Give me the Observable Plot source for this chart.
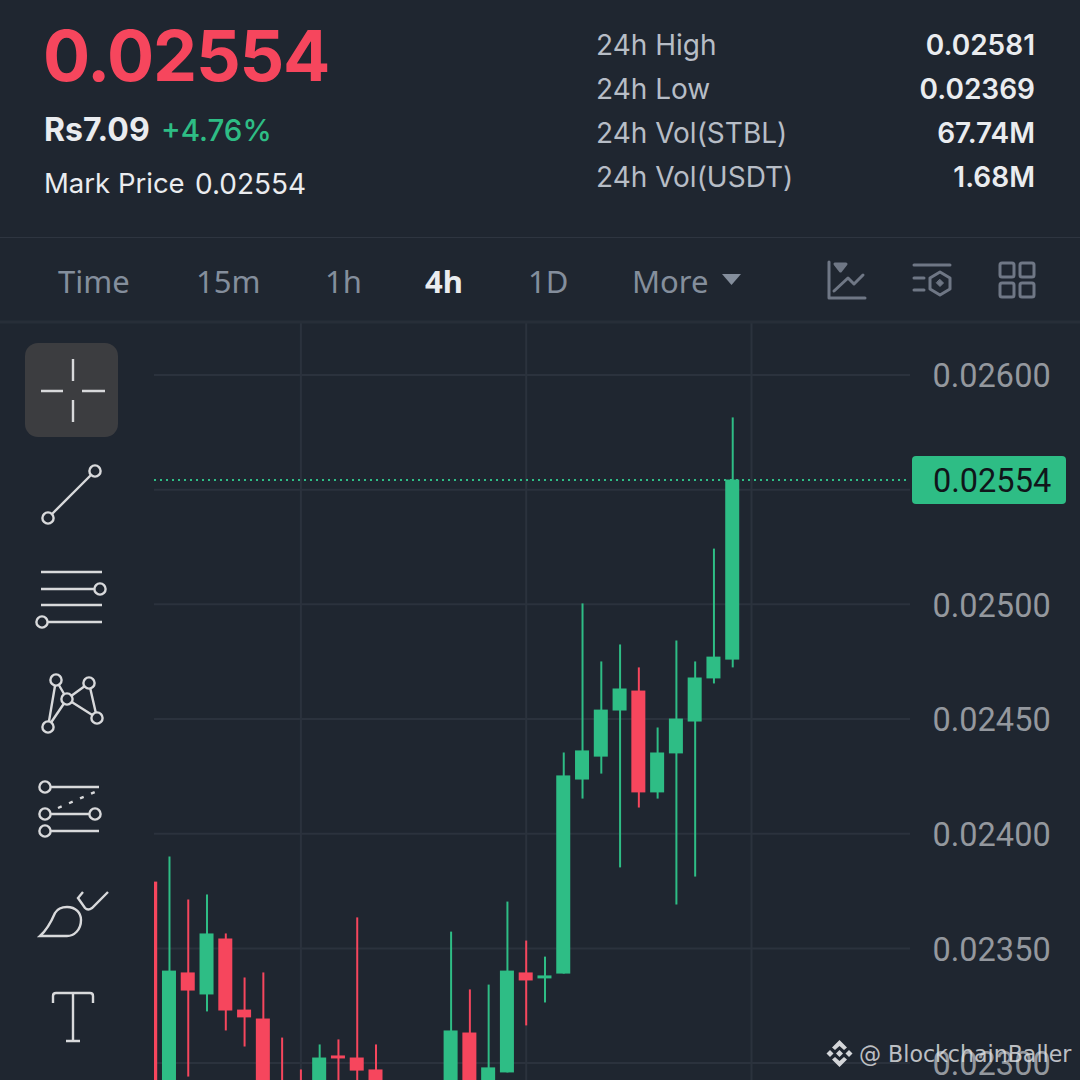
<!DOCTYPE html>
<html><head><meta charset="utf-8">
<script src="https://cdn.jsdelivr.net/npm/d3@7"></script>
<script src="https://cdn.jsdelivr.net/npm/@observablehq/plot@0.6"></script>
<style>
html,body{margin:0;padding:0;background:#1f2630;overflow:hidden;width:1080px;height:1080px}
#page{position:relative;width:1080px;height:1080px;font-family:Inter,sans-serif;overflow:hidden}
.t{position:absolute;white-space:nowrap;line-height:1;transform:translateY(-50%)}
#chart{position:absolute;left:0;top:322px}
#icons{position:absolute;left:0;top:0;pointer-events:none}
</style></head><body>
<div id="page"><div id="chart"></div><div id="hdr"></div>
<svg id="icons" width="1080" height="1080" fill="none">
 <line x1="0" x2="1080" y1="237.5" y2="237.5" stroke="#2e3540" stroke-width="1"/>
 <line x1="0" x2="1080" y1="322" y2="322" stroke="#272e38" stroke-width="3"/>
 <g stroke="#6f7785" stroke-width="3" stroke-linecap="round" stroke-linejoin="round">
  <path d="M829 262V298H865"/><path d="M835 264H846L840.5 271Z" fill="#6f7785"/><path d="M834 291L848 278L854 284L863 275"/>
  <path d="M914 265H950M914 278H924M914 290H924"/><path d="M940 272L950 278V289L940 295L930 289V278Z"/><path d="M940 279.5L943.5 283L940 286.5L936.5 283Z" fill="#6f7785" stroke-width="1"/>
  <rect x="1000" y="263" width="14" height="14" rx="2"/><rect x="1020" y="263" width="14" height="14" rx="2"/><rect x="1000" y="283" width="14" height="14" rx="2"/><rect x="1020" y="283" width="14" height="14" rx="2"/>
 </g>
 <path d="M722 274H741L731.5 285Z" fill="#848e9c"/>
 <rect x="25" y="343" width="93" height="94" rx="13" fill="#3c3d40"/>
 <g stroke="#d8d9db" stroke-width="2.4" stroke-linecap="butt">
  <path d="M73 359V381M73 400V422M41 391H63M82 391H105"/>
  <path d="M91 475L52 514"/><circle cx="95" cy="471" r="5.6"/><circle cx="48" cy="518" r="5.6"/>
  <path d="M41 572H102M41 589H95M41 605H102M48 622H102"/><circle cx="100" cy="589" r="5.6"/><circle cx="42" cy="622" r="5.6"/>
  <path d="M56 680L48 727M56 680L67 699M67 699L89 683M89 683L97 718M48 727L67 699M67 699L97 718"/>
  <g fill="#1f2630"><circle cx="56" cy="680" r="5.6"/><circle cx="89" cy="683" r="5.6"/><circle cx="67" cy="699" r="5.6"/><circle cx="48" cy="727" r="5.6"/><circle cx="97" cy="718" r="5.6"/></g>
  <path d="M51 787H99M51 814H89M51 831H99"/><path d="M58 808L95 792" stroke-dasharray="4 8"/><circle cx="45" cy="787" r="5.6"/><circle cx="45" cy="814" r="5.6"/><circle cx="95" cy="814" r="5.6"/><circle cx="45" cy="831" r="5.6"/>
  <path d="M40 936C48 929 52 920 55 913C58 908 62 907 67 907C76 907 81 913 81 920C81 930 74 936 67 936Z"/>
  <path d="M83 892L78 898L85 908Q88 911 92 908L108 892"/>
  <path d="M53 1003V996Q53 993 56 993H90Q93 993 93 996V1003M73 993V1041M66 1041H80"/>
 </g>
 <g fill="#d4d6d9" transform="translate(839.5,1053.5)">
  <path d="M0 -13.5L7.5 -6L4.5 -3.5L0 -7.5L-4.5 -3.5L-7.5 -6Z"/><path d="M0 13.5L7.5 6L4.5 3.5L0 7.5L-4.5 3.5L-7.5 6Z"/>
  <path d="M-13 0L-9.5 -3.5L-6 0L-9.5 3.5Z"/><path d="M13 0L9.5 -3.5L6 0L9.5 3.5Z"/><path d="M0 -3.5L3.5 0L0 3.5L-3.5 0Z"/>
 </g>
</svg></div>
<script>
// --- values ---
const lastPrice = 0.02554;
const priceTicks = [0.026, 0.0255, 0.025, 0.0245, 0.024, 0.0235, 0.023];
const timeGrid = [8, 20, 32];
const candleIndex = [0,1,2,3,4,5,6,7,8,9,10,11,12,16,17,18,19,20,21,22,23,24,25,26,27,28,29,30,31];
const open  = [0.023789,0.022600,0.023393,0.023297,0.023541,0.023231,0.023192,0.022850,0.022850,0.022800,0.023031,0.023022,0.022970,0.022800,0.023131,0.022800,0.022957,0.023393,0.023367,0.023388,0.024234,0.024334,0.024535,0.024622,0.024178,0.024348,0.024487,0.024675,0.024757];
const close = [0.022400,0.023401,0.023314,0.023563,0.023227,0.023197,0.022800,0.022800,0.022800,0.023022,0.023018,0.022965,0.022800,0.023140,0.022800,0.022979,0.023401,0.023358,0.023380,0.024252,0.024361,0.024539,0.024631,0.024178,0.024352,0.024500,0.024679,0.024770,0.025542];
const high  = [0.023789,0.023898,0.023711,0.023733,0.023563,0.023371,0.023393,0.023109,0.022970,0.023079,0.023101,0.023633,0.023079,0.023571,0.023319,0.023340,0.023702,0.023532,0.023462,0.024352,0.025002,0.024749,0.024823,0.024723,0.024461,0.024840,0.024749,0.025241,0.025813];
const low   = [0.022400,0.022600,0.022939,0.023223,0.023140,0.023070,0.022800,0.022800,0.022800,0.022800,0.022800,0.022800,0.022800,0.022800,0.022800,0.022800,0.022957,0.023162,0.023262,0.023388,0.024151,0.024260,0.023851,0.024112,0.024151,0.023689,0.023811,0.024653,0.024723];
const headerStats = [["24h High","0.02581",45],["24h Low","0.02369",89],["24h Vol(STBL)","67.74M",133],["24h Vol(USDT)","1.68M",177]];
const tabs = [["Time",58],["15m",196],["1h",325],["4h",425],["1D",528],["More",632]];

const UP = "#2ebd85", DOWN = "#f6465d", GRID = "#2b323d";
const candles = candleIndex.map((i, k) => ({i, open: open[k], close: close[k], high: high[k], low: low[k]}));
const colorOf = d => d.close >= d.open ? UP : DOWN;

const hdr = document.getElementById("hdr");
function put(text, x, y, size, color, weight, right) {
  const e = document.createElement("div");
  e.className = "t"; e.textContent = text;
  e.style.cssText = `top:${y}px;${right ? `right:${1080 - x}px` : `left:${x}px`};font-size:${size}px;color:${color};font-weight:${weight}`;
  hdr.appendChild(e);
  return e;
}
put("0.02554", 43, 56, 70, DOWN, 700).style.letterSpacing = "-1.2px";
put("Rs7.09", 44, 130, 32, "#eaecef", 700);
put("+4.76%", 161, 131, 29.5, UP, 500);
put("Mark Price", 44, 184, 27.5, "#eaecef", 400);
put("0.02554", 195, 184, 28, "#eaecef", 400);
for (const [label, value, y] of headerStats) {
  put(label, 596, y, 28, "#b7bdc6", 400);
  put(value, 1035, y, 28, "#eaecef", 600, true);
}
for (const [label, x] of tabs) {
  const on = label === "4h";
  put(label, x, 281, 31, on ? "#eaecef" : "#848e9c", on ? 700 : 400).style.fontFamily = "'Noto Sans'";
}
put("@ BlockchainBaller", 859, 1054, 22.1, "rgba(225,227,230,0.82)", 400).style.fontFamily = "'DejaVu Sans'";

const chart = Plot.plot({
  width: 1080, height: 758,
  marginTop: 0, marginBottom: 0, marginLeft: 154, marginRight: 170,
  style: {background: "transparent", fontFamily: "Roboto, sans-serif", overflow: "visible"},
  x: {type: "band", domain: d3.range(33), range: [143.2, 758], paddingInner: 0.254, paddingOuter: 0, round: false, axis: null},
  y: {domain: [0.022924, 0.026229], axis: null},
  marks: [
    Plot.ruleY(priceTicks, {stroke: GRID, strokeWidth: 2}),
    Plot.ruleX(timeGrid, {x: d => d, stroke: GRID, strokeWidth: 2}),
    Plot.ruleX(candles, {x: "i", y1: "low", y2: "high", stroke: colorOf, strokeWidth: 2, clip: true}),
    Plot.barY(candles, {x: "i", y1: "open", y2: "close", fill: colorOf, clip: true}),
    Plot.ruleY([lastPrice], {stroke: UP, strokeWidth: 2, strokeDasharray: "2,4", dy: -0.5}),
    Plot.axisY(priceTicks, {anchor: "right", tickSize: 0, tickPadding: 22, tickFormat: d => d.toFixed(5), fontSize: 32.5, fill: "#94989e", dy: 2}),
    (index, scales, values, dims) => {
      const y = scales.y(lastPrice), x0 = dims.width - dims.marginRight;
      const g = d3.create("svg:g");
      g.append("rect").attr("x", x0 + 2).attr("y", y - 24).attr("width", 154).attr("height", 48).attr("rx", 4).attr("fill", UP);
      g.append("text").attr("x", x0 + 23).attr("y", y + 1).attr("dy", "0.35em").attr("text-anchor", "start").attr("font-size", 32.5).attr("fill", "#10151a").text(lastPrice.toFixed(5));
      return g.node();
    }
  ]
});
document.getElementById("chart").appendChild(chart);
</script></body></html>
